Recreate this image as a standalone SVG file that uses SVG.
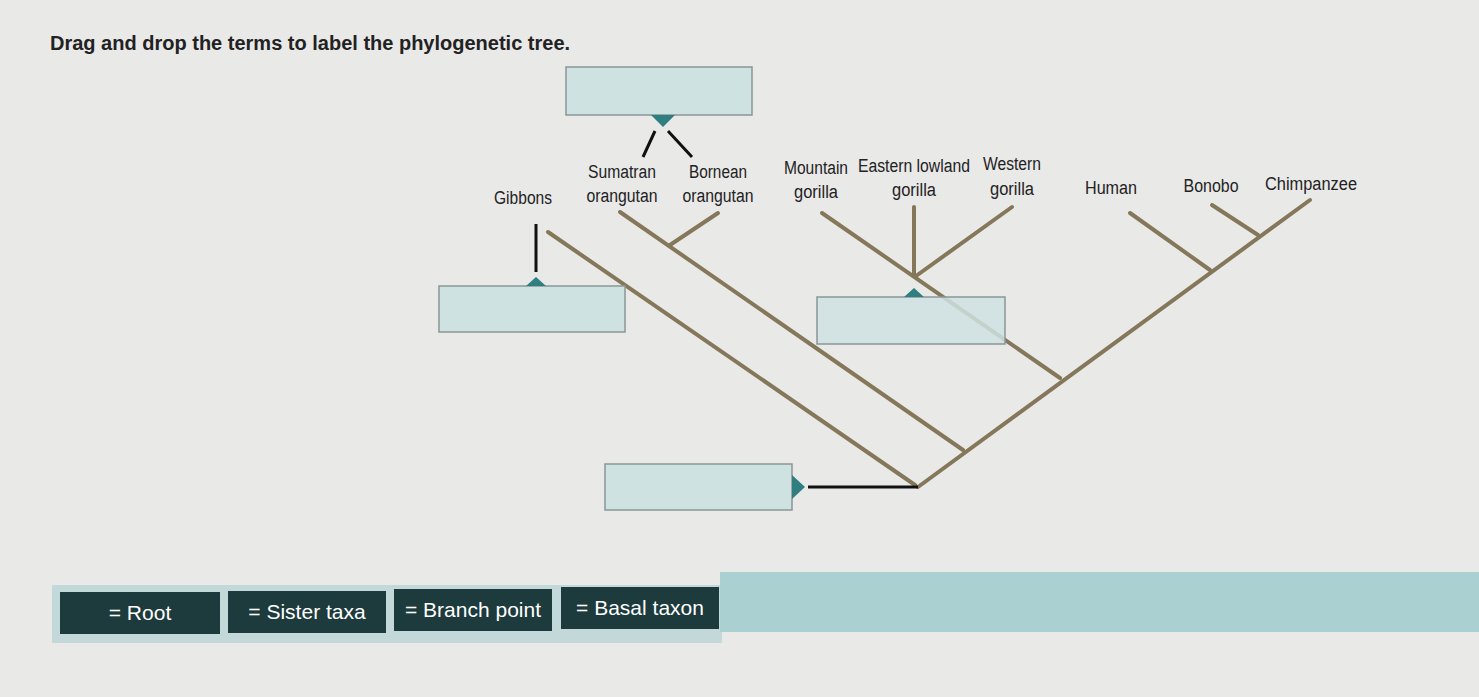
<svg xmlns="http://www.w3.org/2000/svg" width="1479" height="697" viewBox="0 0 1479 697">
<style>
.box{fill:#cfe2e2;stroke:#8a9696;stroke-width:1.5}
.tri{fill:#2f7f80}
.br{stroke:#85775a;stroke-width:4;fill:none;stroke-linecap:round}
.blk{stroke:#111;stroke-width:3;fill:none}
.lbl{font-family:"Liberation Sans",Arial,sans-serif;font-size:18px;fill:#222;text-anchor:middle}
.btn{fill:#1d3a3c}
.bt{font-family:"Liberation Sans",Arial,sans-serif;font-size:21px;fill:#fff;text-anchor:middle}
</style>
<rect width="1479" height="697" fill="#e9e9e8"/>
<text x="50" y="50" font-family="Liberation Sans,Arial,sans-serif" font-size="20" font-weight="bold" fill="#222">Drag and drop the terms to label the phylogenetic tree.</text>
<g id="connectors">
<path class="br" d="M918,487 L1310,200"/>
<path class="br" d="M548,232 L915,485"/>
<path class="br" d="M620,212 L963,450"/>
<path class="br" d="M718,213 L670,245"/>
<path class="br" d="M822,213 L1060,378"/>
<path class="br" d="M914,207 L914,275"/>
<path class="br" d="M1012,207 L916,276"/>
<path class="br" d="M1130,213 L1210,270"/>
<path class="br" d="M1212,205 L1258,235"/>
<path class="blk" d="M536,224 L536,272"/>
<path class="blk" d="M808,487 L918,487"/>
<path class="blk" d="M643,157 L655,131 M668,131 L692,157" stroke-width="2.5"/>
</g>
<g id="box-top"><rect class="box" x="566" y="67" width="186" height="48"/><polygon class="tri" points="651,115 675,115 663,127"/></g>
<g id="box-left"><rect class="box" x="439" y="286" width="186" height="46"/><polygon class="tri" points="526,286 546,286 536,277"/></g>
<g id="box-mid"><rect class="box" x="817" y="297" width="188" height="47" fill-opacity="0.85"/><polygon class="tri" points="904,297 924,297 914,288"/></g>
<g id="box-bottom"><rect class="box" x="605" y="464" width="187" height="46"/><polygon class="tri" points="792,475 792,499 805,487"/></g>
<g id="labels">
<text class="lbl" x="523" y="204" textLength="58" lengthAdjust="spacingAndGlyphs">Gibbons</text>
<text class="lbl" x="622" y="178" textLength="68" lengthAdjust="spacingAndGlyphs">Sumatran</text>
<text class="lbl" x="622" y="202" textLength="71" lengthAdjust="spacingAndGlyphs">orangutan</text>
<text class="lbl" x="718" y="178" textLength="58" lengthAdjust="spacingAndGlyphs">Bornean</text>
<text class="lbl" x="718" y="202" textLength="71" lengthAdjust="spacingAndGlyphs">orangutan</text>
<text class="lbl" x="816" y="174" textLength="64" lengthAdjust="spacingAndGlyphs">Mountain</text>
<text class="lbl" x="816" y="198" textLength="44" lengthAdjust="spacingAndGlyphs">gorilla</text>
<text class="lbl" x="914" y="172" textLength="112" lengthAdjust="spacingAndGlyphs">Eastern lowland</text>
<text class="lbl" x="914" y="196" textLength="44" lengthAdjust="spacingAndGlyphs">gorilla</text>
<text class="lbl" x="1012" y="170" textLength="58" lengthAdjust="spacingAndGlyphs">Western</text>
<text class="lbl" x="1012" y="195" textLength="44" lengthAdjust="spacingAndGlyphs">gorilla</text>
<text class="lbl" x="1111" y="194" textLength="52" lengthAdjust="spacingAndGlyphs">Human</text>
<text class="lbl" x="1211" y="192" textLength="55" lengthAdjust="spacingAndGlyphs">Bonobo</text>
<text class="lbl" x="1311" y="190" textLength="92" lengthAdjust="spacingAndGlyphs">Chimpanzee</text>
</g>
<rect x="52" y="585" width="670" height="58" fill="#c3d9d9"/>
<rect x="720" y="572" width="759" height="60" fill="#abd0d1"/>
<g id="btn-root"><rect class="btn" x="60" y="592" width="160" height="42"/><text class="bt" x="140" y="614" dominant-baseline="middle">= Root</text></g>
<g id="btn-sister"><rect class="btn" x="228" y="591" width="158" height="42"/><text class="bt" x="307" y="613" dominant-baseline="middle">= Sister taxa</text></g>
<g id="btn-branch"><rect class="btn" x="394" y="589" width="158" height="42"/><text class="bt" x="473" y="611" dominant-baseline="middle">= Branch point</text></g>
<g id="btn-basal"><rect class="btn" x="561" y="587" width="158" height="42"/><text class="bt" x="640" y="609" dominant-baseline="middle">= Basal taxon</text></g>
</svg>
